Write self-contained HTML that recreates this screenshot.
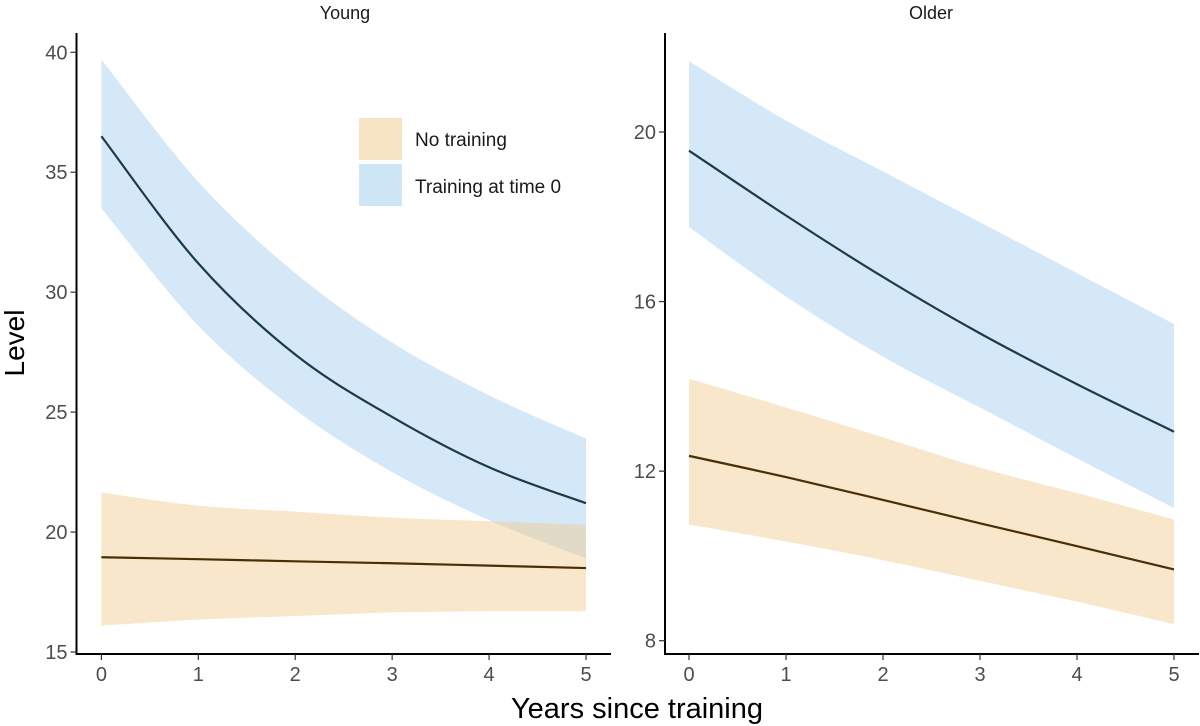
<!DOCTYPE html>
<html><head><meta charset="utf-8"><style>
body{margin:0;background:#fff;}
svg{display:block;font-family:"Liberation Sans",Arial,sans-serif;}
</style></head><body>
<svg id="chart" width="1200" height="726" viewBox="0 0 1200 726"></svg>
<script>
const years=[0,1,2,3,4,5];
const youngTrainMean=[36.5,31.2,27.4,24.8,22.7,21.2];
const youngTrainUpper=[39.7,34.6,30.8,27.9,25.7,23.9];
const youngTrainLower=[33.5,28.6,25.1,22.5,20.5,18.9];
const youngNoMean=[18.95,18.87,18.78,18.7,18.6,18.5];
const youngNoUpper=[21.65,21.1,20.85,20.6,20.45,20.3];
const youngNoLower=[16.1,16.35,16.5,16.65,16.7,16.7];
const olderTrainMean=[19.56,18.03,16.58,15.25,14.05,12.93];
const olderTrainUpper=[21.67,20.27,19.07,17.87,16.67,15.47];
const olderTrainLower=[17.76,16.12,14.7,13.5,12.3,11.13];
const olderNoMean=[12.36,11.86,11.32,10.77,10.23,9.68];
const olderNoUpper=[14.18,13.5,12.8,12.08,11.48,10.86];
const olderNoLower=[10.74,10.34,9.9,9.41,8.92,8.39];
const youngYTicks=[15,20,25,30,35,40];
const olderYTicks=[8,12,16,20];
const xTicks=[0,1,2,3,4,5];

const NS="http://www.w3.org/2000/svg";
const svg=document.getElementById('chart');
function el(tag,attrs,parent){const e=document.createElementNS(NS,tag);for(const k in attrs)e.setAttribute(k,attrs[k]);(parent||svg).appendChild(e);return e;}
function smooth(pts){let d=`M${pts[0][0]},${pts[0][1]}`;for(let i=0;i<pts.length-1;i++){const p0=pts[Math.max(0,i-1)],p1=pts[i],p2=pts[i+1],p3=pts[Math.min(pts.length-1,i+2)];
const c1=[p1[0]+(p2[0]-p0[0])/6,p1[1]+(p2[1]-p0[1])/6],c2=[p2[0]-(p3[0]-p1[0])/6,p2[1]-(p3[1]-p1[1])/6];
d+=` C${c1[0]},${c1[1]} ${c2[0]},${c2[1]} ${p2[0]},${p2[1]}`;}return d;}

function panel(cfg){
  const g=el('g',{});
  
  
  const sx=v=>cfg.x0+(v-0)*(cfg.x5-cfg.x0)/5;
  const sy=v=>cfg.ya+(v-cfg.va)*(cfg.yb-cfg.ya)/(cfg.vb-cfg.va);
  function band(up,lo,col,name){
    const top=years.map((t,i)=>[sx(t),sy(up[i])]);
    const bot=years.map((t,i)=>[sx(t),sy(lo[i])]).reverse();
    const d=smooth(top)+' L'+smooth(bot).slice(1)+' Z';
    const p=el('path',{d:d,fill:col,'fill-opacity':0.45},g);
    
    
  }
  function line(m,col,name){
    const p=el('path',{d:smooth(years.map((t,i)=>[sx(t),sy(m[i])])),fill:'none',stroke:col,'stroke-width':2.2},g);
    
    
  }
  band(cfg.tu,cfg.tl,'#9fcdf0','training-ribbon');
  band(cfg.nu,cfg.nl,'#f0c98a','no-training-ribbon');
  line(cfg.tm,'#1b3a4f','training-line');
  line(cfg.nm,'#4a2e06','no-training-line');
  const ya=el('line',{x1:cfg.ax,x2:cfg.ax,y1:cfg.top,y2:cfg.bottom+1,stroke:'#000','stroke-width':2},g);
  
  
  const xa=el('line',{x1:cfg.ax-1,x2:cfg.right,y1:cfg.bottom,y2:cfg.bottom,stroke:'#000','stroke-width':2},g);
  
  
  cfg.yt.forEach(v=>{
    el('line',{x1:cfg.ax-6,x2:cfg.ax,y1:sy(v),y2:sy(v),stroke:'#333','stroke-width':1.2},g);
    const t=el('text',{x:cfg.ax-9,y:sy(v)+7,'text-anchor':'end','font-size':20,fill:'#4d4d4d'},g);
    t.textContent=v;
    
    
  });
  xTicks.forEach(v=>{
    el('line',{x1:sx(v),x2:sx(v),y1:cfg.bottom,y2:cfg.bottom+6,stroke:'#333','stroke-width':1.2},g);
    const t=el('text',{x:sx(v),y:cfg.bottom+27,'text-anchor':'middle','font-size':20,fill:'#4d4d4d'},g);
    t.textContent=v;
    
    
  });
  const tt=el('text',{x:cfg.tx,y:19,'text-anchor':'middle','font-size':18,fill:'#1a1a1a'},g);
  tt.textContent=cfg.title;
  
  
}
panel({name:'young-panel',title:'Young',tx:345,x0:101.4,x5:586,ax:76.5,right:611,top:33,bottom:654,ya:652,yb:52.3,va:15,vb:40,yt:youngYTicks,
  tm:youngTrainMean,tu:youngTrainUpper,tl:youngTrainLower,nm:youngNoMean,nu:youngNoUpper,nl:youngNoLower});
panel({name:'older-panel',title:'Older',tx:931,x0:689,x5:1174,ax:665,right:1199,top:33,bottom:654,ya:640.7,yb:132,va:8,vb:20,yt:olderYTicks,
  tm:olderTrainMean,tu:olderTrainUpper,tl:olderTrainLower,nm:olderNoMean,nu:olderNoUpper,nl:olderNoLower});

const lg=el('g',{});


const r1=el('rect',{x:359,y:118,width:43,height:42,fill:'#f0c98a','fill-opacity':0.5},lg);


const r2=el('rect',{x:359,y:164,width:43,height:42,fill:'#9fcdf0','fill-opacity':0.5},lg);


const t1=el('text',{x:415,y:146,'font-size':19,fill:'#1a1a1a'},lg);t1.textContent='No training';


const t2=el('text',{x:415,y:193,'font-size':19,fill:'#1a1a1a'},lg);t2.textContent='Training at time 0';


const xt=el('text',{x:637,y:718,'text-anchor':'middle','font-size':29,fill:'#000'});xt.textContent='Years since training';


const yt=el('text',{x:0,y:0,transform:'translate(24,343) rotate(-90)','text-anchor':'middle','font-size':28,fill:'#000'});yt.textContent='Level';


</script>
</body></html>
